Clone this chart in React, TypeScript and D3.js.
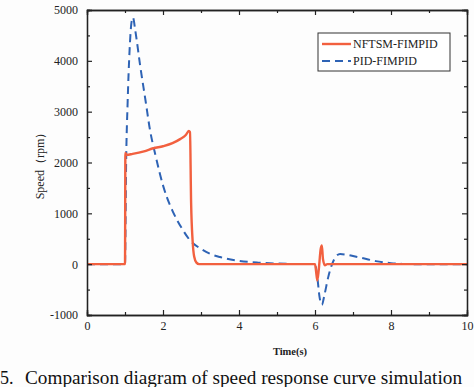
import React, { useEffect, useRef } from 'react';
import * as d3 from 'd3';

// [time (s), speed (rpm)]
const nftsmSeries: [number, number][] = [
  [0, 0], [1.0, 0], [1.01, 2190], [1.04, 2150], [1.2, 2170], [1.5, 2220], [1.75, 2280],
  [2.0, 2320], [2.25, 2380], [2.45, 2460], [2.6, 2540], [2.68, 2620], [2.71, 2600],
  [2.74, 1200], [2.78, 450], [2.82, 150], [2.88, 30], [2.95, 0], [6.0, 0], [6.03, -150],
  [6.06, -320], [6.1, -100], [6.15, 300], [6.18, 370], [6.21, 100], [6.26, -20], [6.32, 0], [10, 0],
];
const pidSeries: [number, number][] = [
  [0, 0], [1.0, 0], [1.03, 2000], [1.07, 3200], [1.12, 4200], [1.17, 4750], [1.21, 4850],
  [1.27, 4600], [1.4, 3900], [1.54, 3220], [1.66, 2630], [1.8, 2150], [2.0, 1550], [2.1, 1320],
  [2.25, 1050], [2.5, 700], [2.71, 470], [3.0, 300], [3.25, 200], [3.5, 140], [4.0, 65],
  [4.5, 30], [5.0, 12], [5.5, 4], [6.0, 0], [6.06, -250], [6.12, -650], [6.18, -800],
  [6.25, -600], [6.35, -250], [6.45, 0], [6.55, 150], [6.66, 200], [6.8, 190], [7.0, 160],
  [7.3, 110], [7.6, 60], [8.0, 20], [8.3, 5], [8.6, 0], [10, 0],
];
const xTicks = [0, 2, 4, 6, 8, 10];
const xMinor = [1, 3, 5, 7, 9];
const yTicks = [-1000, 0, 1000, 2000, 3000, 4000, 5000];
const yMinor = [-500, 500, 1500, 2500, 3500, 4500];
const seriesNames = ['NFTSM-FIMPID', 'PID-FIMPID'];

const W = 474, H = 387;
const FONT = "'Liberation Serif', 'Times New Roman', serif";
const ORANGE = '#f2603f';
const BLUE = '#2e63b5';

export default function App() {
  const ref = useRef<SVGSVGElement>(null);

  useEffect(() => {
    if (!ref.current) return;
    const svg = d3.select(ref.current);
    svg.selectAll('*').remove();

    const x = d3.scaleLinear().domain([0, 10]).range([87, 467]);
    const y = d3.scaleLinear().domain([-1000, 5000]).range([315, 10]);

    svg.append('rect').attr('width', W).attr('height', H).attr('fill', '#fdfdfd');

    const line = d3.line<[number, number]>()
      .x(d => x(d[0])).y(d => y(d[1]))
      .curve(d3.curveMonotoneX);

    const g = svg.append('g');
    g.append('path').attr('d', line(pidSeries))
      .attr('fill', 'none').attr('stroke', BLUE).attr('stroke-width', 2)
      .attr('stroke-dasharray', '8,5');
    g.append('path').attr('d', line(nftsmSeries))
      .attr('fill', 'none').attr('stroke', ORANGE).attr('stroke-width', 2.4);

    const plain = (d: any) => String(d);
    const axisStyle = (sel: any) => {
      sel.attr('font-family', null);
      sel.select('.domain').attr('stroke', '#222').attr('stroke-width', 1.3);
      sel.selectAll('.tick line').attr('stroke', '#222').attr('stroke-width', 1.2);
      sel.selectAll('text').style('font-family', FONT).attr('font-size', 12).attr('fill', '#222');
    };

    svg.append('g').attr('transform', `translate(0,${y(-1000)})`)
      .call(d3.axisBottom(x).tickValues(xTicks).tickSize(-5).tickPadding(6).tickFormat(plain))
      .call(axisStyle);
    svg.append('g').attr('transform', `translate(0,${y(-1000)})`)
      .call(d3.axisBottom(x).tickValues(xMinor).tickSize(-3).tickFormat(() => ''))
      .call(axisStyle);

    svg.append('g').attr('transform', `translate(0,${y(5000)})`)
      .call(d3.axisTop(x).tickValues(xTicks).tickSize(-5).tickFormat(() => ''))
      .call(axisStyle);
    svg.append('g').attr('transform', `translate(0,${y(5000)})`)
      .call(d3.axisTop(x).tickValues(xMinor).tickSize(-3).tickFormat(() => ''))
      .call(axisStyle);

    svg.append('g').attr('transform', `translate(${x(0)},0)`)
      .call(d3.axisLeft(y).tickValues(yTicks).tickSize(-5).tickPadding(9).tickFormat(plain))
      .call(axisStyle);
    svg.append('g').attr('transform', `translate(${x(0)},0)`)
      .call(d3.axisLeft(y).tickValues(yMinor).tickSize(-3).tickFormat(() => ''))
      .call(axisStyle);

    svg.append('g').attr('transform', `translate(${x(10)},0)`)
      .call(d3.axisRight(y).tickValues(yTicks).tickSize(-5).tickFormat(() => ''))
      .call(axisStyle);
    svg.append('g').attr('transform', `translate(${x(10)},0)`)
      .call(d3.axisRight(y).tickValues(yMinor).tickSize(-3).tickFormat(() => ''))
      .call(axisStyle);

    // axis titles
    svg.append('text').attr('transform', `translate(44,${163}) rotate(-90)`)
      .attr('text-anchor', 'middle').style('font-family', FONT).attr('font-size', 12)
      .attr('fill', '#222').text('Speed（rpm）');
    svg.append('text').attr('x', 290).attr('y', 355)
      .attr('text-anchor', 'middle').style('font-family', FONT).attr('font-size', 10.5)
      .attr('font-weight', 'bold').attr('fill', '#222').text('Time(s)');

    // legend
    const lg = svg.append('g').attr('transform', 'translate(318,33)');
    lg.append('rect').attr('width', 132).attr('height', 38)
      .attr('fill', '#fff').attr('stroke', '#333').attr('stroke-width', 1);
    const legendColors = [ORANGE, BLUE];
    seriesNames.forEach((name, i) => {
      const ly = 11 + i * 17;
      lg.append('line').attr('x1', 4).attr('x2', 33).attr('y1', ly).attr('y2', ly)
        .attr('stroke', legendColors[i]).attr('stroke-width', i === 0 ? 2.4 : 2)
        .attr('stroke-dasharray', i === 0 ? null : '8,5');
      lg.append('text').attr('x', 35).attr('y', ly + 4)
        .style('font-family', FONT).attr('font-size', 12).attr('fill', '#222').text(name);
    });

    // caption
    svg.append('text').attr('x', 0).attr('y', 384)
      .style('font-family', FONT).attr('font-size', 18).attr('fill', '#111').text('5.');
    svg.append('text').attr('x', 25).attr('y', 384)
      .style('font-family', FONT).attr('font-size', 18).attr('fill', '#111')
      .attr('textLength', 437).attr('lengthAdjust', 'spacingAndGlyphs')
      .text('Comparison diagram of speed response curve simulation');
  }, []);

  return (
    <div style={{ position: 'absolute', left: 0, top: 0 }}>
      <svg ref={ref} width={W} height={H} style={{ display: 'block' }} />
    </div>
  );
}
